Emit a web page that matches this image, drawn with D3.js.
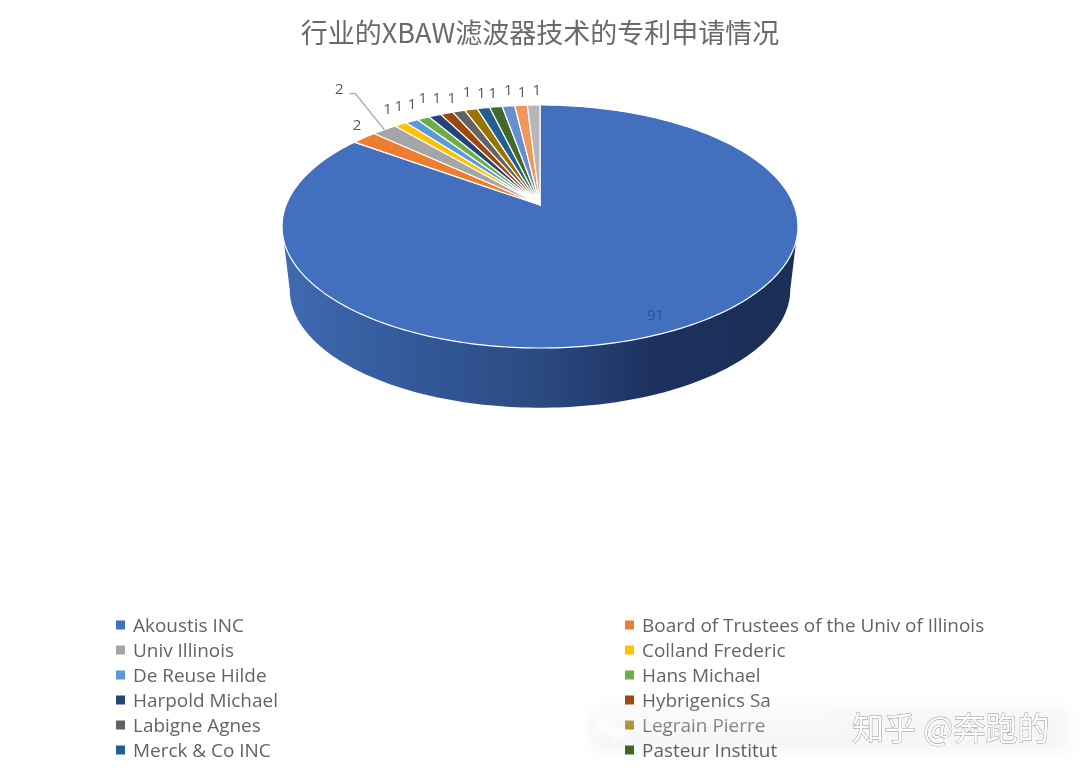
<!DOCTYPE html>
<html>
<head>
<meta charset="utf-8">
<script src="https://cdn.jsdelivr.net/npm/d3@7"></script>
<style>
  html, body { margin: 0; padding: 0; background: #fff; }
  svg { display: block; filter: blur(0.45px); }
</style>
</head>
<body>
<div id="chart"></div>
<script>
// data
var title = "行业的XBAW滤波器技术的专利申请情况";
var values = [91, 2, 2, 1, 1, 1, 1, 1, 1, 1, 1, 1, 1, 1, 1];
var colors = ["#4270BF", "#ED7D31", "#A5A5A5", "#FFC000", "#5B9BD5", "#70AD47", "#264478", "#9E480E",
              "#636363", "#997300", "#255E91", "#43682B", "#698ED0", "#F1975A", "#B7B7B7"];
// the legend only lists the first twelve slices
var legendNames = ["Akoustis INC", "Board of Trustees of the Univ of Illinois", "Univ Illinois", "Colland Frederic",
                   "De Reuse Hilde", "Hans Michael", "Harpold Michael", "Hybrigenics Sa",
                   "Labigne Agnes", "Legrain Pierre", "Merck & Co INC", "Pasteur Institut"];

// svg params
var svgWidth = 1080;
var svgHeight = 773;

var svg = d3.select("#chart")
  .append("svg")
  .attr("width", svgWidth)
  .attr("height", svgHeight);

svg.append("text")
  .attr("x", 540)
  .attr("y", 43)
  .attr("text-anchor", "middle")
  .style("font-family", "'Noto Sans CJK SC'")
  .style("font-size", "27px")
  .style("fill", "#6a6a6a")
  .text(title);

// perspective of the tilted pie
var tilt = 0.177;
var xScale = d3.scaleLinear().domain([-1, 1]).range([286.1, 793.9]);
var yScale = d3.scaleLinear().domain([-1, 1]).range([87.3, 322.7]);

// angle is clockwise from 12 o'clock, r is in pie radii
function project(angle, r) {
  var u = r * Math.sin(angle);
  var v = -r * Math.cos(angle);
  var d = 1 - tilt * v;
  return [xScale(u / d), yScale(v / d)];
}

function rim(a0, a1) {
  var n = Math.max(2, Math.ceil(Math.abs(a1 - a0) / 0.02));
  return d3.range(n + 1).map(function(i) { return a0 + (a1 - a0) * i / n; });
}

var line = d3.line();
var slices = d3.pie().sort(null).value(function(d) { return d; })(values);

// side wall, only the big slice shows at the front
var defs = svg.append("defs");
var grad = defs.append("linearGradient")
  .attr("id", "wall")
  .attr("gradientUnits", "userSpaceOnUse")
  .attr("x1", 283).attr("x2", 797).attr("y1", 0).attr("y2", 0);
[[0, "#3f6bb1"], [0.22, "#355b9d"], [0.5, "#2a4a80"], [0.72, "#1d3160"], [1, "#1b2e55"]].forEach(function(s) {
  grad.append("stop").attr("offset", s[0]).attr("stop-color", s[1]);
});

var wallScale = 0.97;
var wallDrop = 64;
var leftAngle = 2 * Math.PI - Math.acos(-tilt);
var rightAngle = Math.acos(-tilt);
var wallAngles = rim(rightAngle, leftAngle);
var wallTop = wallAngles.map(function(a) { return project(a, 1); });
var wallBottom = wallAngles.slice().reverse().map(function(a) {
  var p = project(a, 1);
  return [540 + (p[0] - 540) * wallScale, 205 + (p[1] - 205) * wallScale + wallDrop];
});

svg.append("path")
  .attr("d", line(wallTop.concat(wallBottom)) + "Z")
  .attr("fill", "url(#wall)");

// top face
svg.selectAll(".slice")
  .data(slices)
  .enter()
  .append("path")
  .attr("class", "slice")
  .attr("d", function(d) {
    var pts = rim(d.startAngle, d.endAngle).map(function(a) { return project(a, 1); });
    return line([project(0, 0)].concat(pts)) + "Z";
  })
  .attr("fill", function(d, i) { return colors[i]; })
  .attr("stroke", "#fff")
  .attr("stroke-width", 1.2)
  .attr("stroke-linejoin", "round");

// data labels, nudged off the rim point of their slice
var labelNudge = [[-21, -15], [-7, -13], [-45, -41], [-13, -16], [-13, -15], [-11, -14], [-12, -18], [-10, -15],
                  [-7, -13], [-4, -18], [-2, -15], [-3, -14], [0, -16], [1, -14], [3, -15]];

svg.selectAll(".label")
  .data(slices)
  .enter()
  .append("text")
  .attr("class", "label")
  .attr("x", function(d, i) { return project((d.startAngle + d.endAngle) / 2, 1)[0] + labelNudge[i][0]; })
  .attr("y", function(d, i) { return project((d.startAngle + d.endAngle) / 2, 1)[1] + labelNudge[i][1]; })
  .attr("dy", "0.35em")
  .attr("text-anchor", "middle")
  .style("font-family", "'Open Sans'")
  .style("font-size", "15px")
  .style("fill", function(d, i) { return i == 0 ? "#2f4f86" : "#595959"; })
  .text(function(d) { return d.value; });

// leader line of the second "2"
var leadStart = project((slices[2].startAngle + slices[2].endAngle) / 2, 1);
svg.append("path")
  .attr("d", line([leadStart, [leadStart[0] - 29, leadStart[1] - 36], [leadStart[0] - 35, leadStart[1] - 36]]))
  .attr("fill", "none")
  .attr("stroke", "#a6a6a6")
  .attr("stroke-width", 1.3);

// legend
var legendX = d3.scalePoint().domain([0, 1]).range([116, 625]);
var legendY = d3.scaleLinear().domain([0, 5]).range([625, 750]);

var legend = svg.selectAll(".legend")
  .data(legendNames)
  .enter()
  .append("g")
  .attr("class", "legend")
  .attr("transform", function(d, i) {
    return "translate(" + legendX(i % 2) + "," + legendY(Math.floor(i / 2)) + ")";
  });

legend.append("rect")
  .attr("x", 0)
  .attr("y", -4.5)
  .attr("width", 9)
  .attr("height", 9)
  .attr("fill", function(d, i) { return colors[i]; });

legend.append("text")
  .attr("x", 17)
  .attr("dy", "0.35em")
  .style("font-family", "'Open Sans'")
  .style("font-size", "18.95px")
  .style("fill", "#636363")
  .text(function(d) { return d; });

// watermark over the corner
var soft = defs.append("filter").attr("id", "soft").attr("x", "-20%").attr("y", "-100%").attr("width", "140%").attr("height", "300%");
soft.append("feGaussianBlur").attr("stdDeviation", 8);
var icon = defs.append("filter").attr("id", "iconBlur").attr("x", "-50%").attr("y", "-50%").attr("width", "200%").attr("height", "200%");
icon.append("feGaussianBlur").attr("stdDeviation", 1.5);

svg.append("rect")
  .attr("x", 590).attr("y", 708).attr("width", 480).attr("height", 44)
  .attr("fill", "#000").attr("opacity", 0.035)
  .attr("filter", "url(#soft)");

svg.append("rect")
  .attr("x", 600).attr("y", 714).attr("width", 240).attr("height", 14)
  .attr("fill", "#fff").attr("opacity", 0.45)
  .attr("filter", "url(#soft)");

svg.append("ellipse").attr("cx", 605).attr("cy", 726).attr("rx", 10).attr("ry", 9)
  .attr("fill", "#fff").attr("opacity", 0.6).attr("filter", "url(#iconBlur)");
svg.append("ellipse").attr("cx", 618).attr("cy", 733).attr("rx", 8).attr("ry", 7)
  .attr("fill", "#fff").attr("opacity", 0.6).attr("filter", "url(#iconBlur)");

svg.append("text")
  .attr("x", 852)
  .attr("y", 740)
  .style("font-family", "'Noto Sans CJK SC'")
  .style("font-size", "32px")
  .style("fill", "#fff")
  .style("stroke", "#8f8f8f")
  .style("stroke-width", 0.9)
  .style("paint-order", "stroke")
  .text("知乎 @奔跑的");
</script>
</body>
</html>
